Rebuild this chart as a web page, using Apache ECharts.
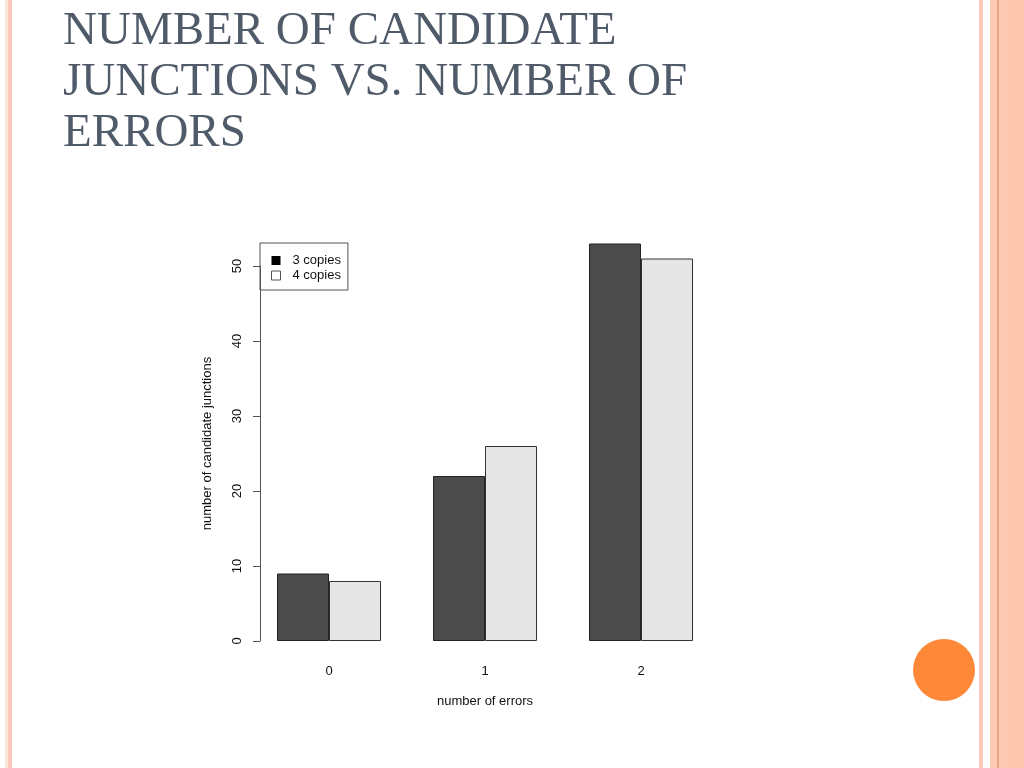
<!DOCTYPE html>
<html>
<head>
<meta charset="utf-8">
<script src="https://cdn.jsdelivr.net/npm/echarts@6/dist/echarts.min.js"></script>
<style>
  html, body { margin: 0; padding: 0; background: #fff; }
  #chart { width: 1024px; height: 768px; }
</style>
</head>
<body>
<div id="chart"></div>
<script>
// data
var categories = ["0", "1", "2"];
var copies3 = [9, 22, 53];
var copies4 = [8, 26, 51];
var yTicks = [0, 10, 20, 30, 40, 50];

var chart = echarts.init(document.getElementById("chart"));
var font = "'Liberation Sans', Arial, Helvetica, sans-serif";

var option = {
  backgroundColor: "#ffffff",
  animation: false,
  title: {
    text: "NUMBER OF CANDIDATE\nJUNCTIONS VS. NUMBER OF\nERRORS",
    left: 58,
    top: 1,
    textStyle: {
      fontFamily: "'Liberation Serif', 'Times New Roman', serif",
      fontWeight: "normal",
      fontSize: 47,
      lineHeight: 51,
      color: "#505b6a"
    }
  },
  legend: {
    orient: "vertical",
    left: 260,
    top: 243,
    padding: [11, 7, 8, 11],
    itemGap: 2,
    itemWidth: 9,
    itemHeight: 9,
    icon: "rect",
    borderColor: "#555",
    borderWidth: 1,
    borderRadius: 0,
    textStyle: {
      fontFamily: font,
      fontSize: 13,
      lineHeight: 13,
      color: "#111",
      padding: [0, 0, 0, 7]
    },
    data: [
      { name: "3 copies", itemStyle: { color: "#000", borderWidth: 0 } },
      { name: "4 copies", itemStyle: { color: "#fff", borderColor: "#555", borderWidth: 1 } }
    ]
  },
  grid: {
    left: 251,
    right: 305,
    top: 266,
    bottom: 127,
    containLabel: false
  },
  xAxis: {
    type: "category",
    data: categories,
    axisLine: { show: false },
    axisTick: { show: false },
    axisLabel: {
      margin: 24,
      fontFamily: font,
      fontSize: 13,
      color: "#111"
    },
    name: "number of errors",
    nameLocation: "middle",
    nameGap: 54,
    nameTextStyle: { fontFamily: font, fontSize: 13, color: "#111" }
  },
  yAxis: {
    type: "value",
    min: yTicks[0],
    max: yTicks[yTicks.length - 1],
    interval: 10,
    offset: -9,
    splitLine: { show: false },
    axisLine: { show: true, lineStyle: { color: "#555", width: 1 } },
    axisTick: { show: true, length: 7, lineStyle: { color: "#555" } },
    axisLabel: {
      rotate: 90,
      margin: 16,
      fontFamily: font,
      fontSize: 13,
      color: "#111"
    },
    name: "number of candidate junctions",
    nameLocation: "middle",
    nameRotate: 90,
    nameGap: 46,
    nameTextStyle: {
      fontFamily: font,
      fontSize: 13,
      color: "#111",
      padding: [0, 0, 0, 20]
    }
  },
  series: [
    {
      name: "3 copies",
      type: "bar",
      data: copies3,
      barWidth: 52,
      barGap: "0%",
      clip: false,
      itemStyle: { color: "#4b4b4b", borderColor: "#222", borderWidth: 1 }
    },
    {
      name: "4 copies",
      type: "bar",
      data: copies4,
      barWidth: 52,
      barGap: "0%",
      clip: false,
      itemStyle: { color: "#e6e6e6", borderColor: "#333", borderWidth: 1 }
    }
  ],
  graphic: [
    // slide decoration: left border
    { type: "rect", shape: { x: 5, y: 0, width: 3, height: 768 }, style: { fill: "#f8e6d8" }, silent: true },
    { type: "rect", shape: { x: 8, y: 0, width: 4, height: 768 }, style: { fill: "#fcc7b9" }, silent: true },
    // right border
    { type: "rect", shape: { x: 979, y: 0, width: 4, height: 768 }, style: { fill: "#fcc9bd" }, silent: true },
    { type: "rect", shape: { x: 990, y: 0, width: 34, height: 768 }, style: { fill: "#fdcab3" }, silent: true },
    { type: "rect", shape: { x: 997, y: 0, width: 2, height: 768 }, style: { fill: "#eca487" }, silent: true },
    { type: "rect", shape: { x: 1008, y: 0, width: 16, height: 768 }, style: { fill: "#fdc8ae" }, silent: true },
    // orange dot
    { type: "circle", shape: { cx: 944, cy: 670, r: 31 }, style: { fill: "#fd8837" }, silent: true }
  ]
};

chart.setOption(option);
</script>
</body>
</html>
